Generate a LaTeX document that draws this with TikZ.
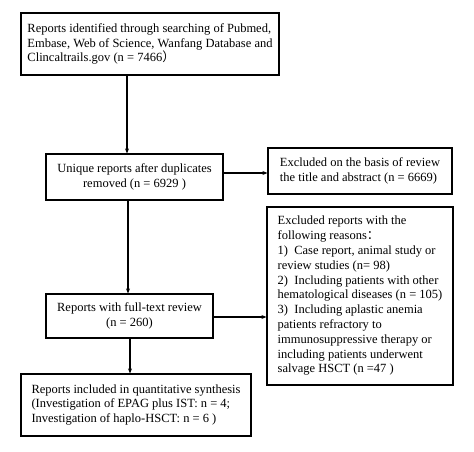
\documentclass[tikz,border=0pt]{standalone}
\usepackage{fontspec}
\setmainfont{Liberation Serif}
\newfontfamily\cjk{Noto Sans CJK SC}
\usetikzlibrary{arrows.meta}
\begin{document}
\begin{tikzpicture}[x=1pt,y=-1pt,
  box/.style={draw, line width=1.2pt, inner sep=0pt, font=\fontsize{12.5}{14.8}\selectfont},
  arr/.style={line width=1.1pt, -{Stealth[length=5pt,width=4pt]}}]
\useasboundingbox (0,0) rectangle (474,452);
\node[box, minimum width=258, minimum height=62, align=left] (b1) at (150,44)
  {Reports identified through searching of Pubmed,\\Embase, Web of Science, Wanfang Database and\\Clincaltrails.gov (n = 7466{\cjk ）}};
\node[box, minimum width=177, minimum height=46, align=center] (b2) at (134.5,177)
  {Unique reports after duplicates\\removed (n = 6929 )};
\node[box, minimum width=184, minimum height=46, align=left] (b3) at (360,171)
  {Excluded on the basis of review\\the title and abstract (n = 6669)};
\node[box, minimum width=186, minimum height=178, align=left] (b4) at (360,296)
  {Excluded reports with the\\following reasons{\cjk ：}\\1)\ \ Case report, animal study or\\review studies (n= 98)\\2)\ \ Including patients with other\\hematological diseases (n = 105)\\3)\ \ Including aplastic anemia\\patients refractory to\\immunosuppressive therapy or\\including patients underwent\\salvage HSCT (n =47 )};
\node[box, minimum width=167, minimum height=44, align=center] (b5) at (129.5,316)
  {Reports with full-text review\\(n = 260)};
\node[box, minimum width=230, minimum height=62, align=left] (b6) at (136,405)
  {Reports included in quantitative synthesis\\(Investigation of EPAG plus IST: n = 4;\\Investigation of haplo-HSCT: n = 6 )};
\draw[arr] (127,0 |- b1.south) -- (127,0 |- b2.north);
\draw[arr] (b2.east |- 0,173) -- (b3.west |- 0,173);
\draw[arr] (128,0 |- b2.south) -- (128,0 |- b5.north);
\draw[arr] (b5.east |- 0,317) -- (b4.west |- 0,317);
\draw[arr] (130,0 |- b5.south) -- (130,0 |- b6.north);
\end{tikzpicture}
\end{document}
